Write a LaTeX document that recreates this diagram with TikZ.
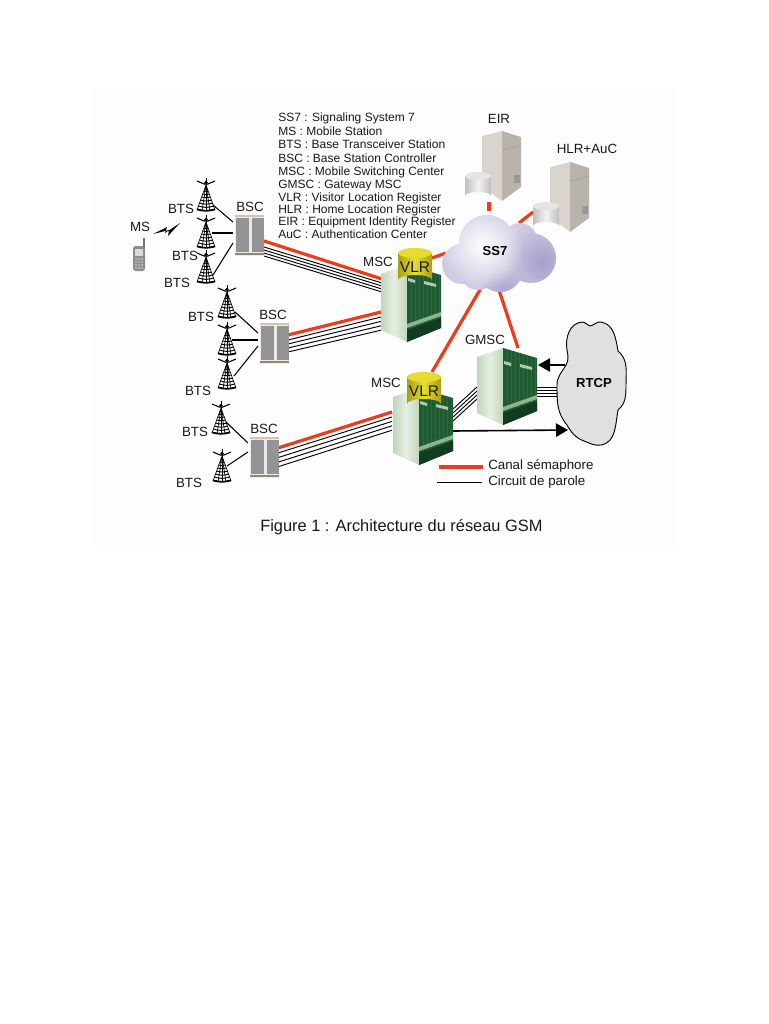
\documentclass[tikz,border=0pt]{standalone}
\usepackage{fontspec}
\setmainfont{Liberation Sans}
\usetikzlibrary{arrows.meta}
\usetikzlibrary{calc}
\usetikzlibrary{fadings}

\definecolor{sigred}{HTML}{F03A1A}
\definecolor{rackdark}{HTML}{1E5A32}
\definecolor{rackline}{HTML}{2C6A3E}
\definecolor{rackband}{HTML}{8DB58E}
\definecolor{rackfoot}{HTML}{123C22}
\definecolor{rackfaceA}{HTML}{BFD6BC}
\definecolor{rackfaceB}{HTML}{E6EFE2}
\definecolor{vlrA}{HTML}{A8A010}
\definecolor{vlrB}{HTML}{E6DC30}
\definecolor{srvA}{HTML}{DAD4CE}
\definecolor{srvB}{HTML}{B9B3AC}
\definecolor{cloudlav}{HTML}{A6A1CB}
\definecolor{paper}{HTML}{FDFDFD}

\tikzfading[name=softglow,inner color=transparent!0,outer color=transparent!100]

\newcommand{\bundle}[4]{% from, to, spacing at start, spacing at end
    \foreach \k in {0,1,2,3} {
        \draw[voice] ($(#1)+(0,\k*#3)$) -- ($(#2)+(0,\k*#4)$);
    }
}

\begin{document}
\begin{tikzpicture}[x=0.75pt,y=-0.75pt]
    \tikzset{>=stealth}
    \tikzset{
        signal/.style={draw=sigred,line width=2.4pt},
        voice/.style={draw=black,line width=0.7pt},
        radio/.style={draw=black,line width=0.8pt},
        trunk/.style={draw=black,line width=1.2pt,-{Triangle[length=9pt,width=10pt]}},
        lbl/.style={font=\fontsize{10}{12}\selectfont,inner sep=0pt,text=black!90},
        drumlbl/.style={lbl,font=\fontsize{11.6}{13}\selectfont},
        listline/.style={lbl,anchor=west,font=\fontsize{9}{10}\selectfont},
        bold/.style={font=\fontsize{9.8}{11}\selectfont\bfseries,inner sep=0pt},
        tower/.pic={
            \draw[line width=0.7pt] (0,0) -- (0,33);
            \draw[line width=0.8pt] (-9,3) -- (-2,6) -- (2,6) -- (9,3);
            \fill (0,4.5) circle (1.8);
            \draw[line width=0.5pt] (0,7) -- (-9,32) (0,7) -- (9,32) (0,7) -- (-4,33) (0,7) -- (4,33);
            \foreach \h in {10,13,...,31} {
                \pgfmathsetmacro{\w}{9*(\h-6)/26}
                \draw[line width=0.7pt] (-\w,\h) to[bend right=18] (\w,\h);
            }
            \draw[line width=1.2pt] (-9,31.5) to[bend right=15] (9,31.5);
        },
        bsc/.pic={
            \fill[black!8] (0,-1) rectangle (29,40);
            \fill[black!42] (1,2) rectangle (13.5,36);
            \fill[black!42] (16.5,2) rectangle (29,36);
            \fill[black!20!brown!40] (0,-1) rectangle (29,1);
            \fill[black!60!brown!60] (0,36.5) rectangle (29,39);
        },
        rack/.pic={
            \shade[left color=rackfaceA,right color=rackfaceA,middle color=rackfaceB] (-26,9) -- (0,0) -- (0,77) -- (-26,65) -- cycle;
            \fill[rackdark] (0,0) -- (34,10) -- (34,63) -- (0,77) -- cycle;
            \foreach \u in {4,8,...,32} {
                \draw[rackline,line width=0.4pt] (\u,{\u*10/34+1}) -- (\u,{77-\u*14/34});
            }
            \fill[rackfoot] (0,65) -- (34,53) -- (34,63) -- (0,77) -- cycle;
            \fill[rackband] (0,59) -- (34,47) -- (34,51) -- (0,63) -- cycle;
            \fill[rackband!70!white] (1,13) -- (8,15) -- (8,18) -- (1,16) -- cycle;
            \fill[rackband!70!white] (17,16) -- (29,19) -- (29,22) -- (17,19) -- cycle;
        },
        vlrdrum/.pic={
            \shade[left color=vlrA,right color=vlrA,middle color=vlrB] (-17,0) -- (-17,27) arc (180:360:17 and 5) -- (17,0) -- cycle;
            \fill[vlrB] (0,0) ellipse (17 and 5);
        },
        server/.pic={
            \fill[srvA] (-20,5) -- (0,0) -- (0,70) -- (-20,55) -- cycle;
            \fill[srvB] (0,0) -- (19,6) -- (19,56) -- (0,70) -- cycle;
            \draw[black!40,line width=0.3pt] (0,19) -- (19,14);
            \fill[black!40] (12,44) rectangle (18,52);
        },
        disk/.pic={
            \shade[left color=black!25,right color=black!25,middle color=black!5] (-13,0) -- (-13,20) arc (180:360:13 and 4) -- (13,0) -- cycle;
            \fill[black!10] (0,0) ellipse (13 and 4);
        }
    }

    \useasboundingbox (0,0) rectangle (768,1024);
    \fill[paper] (93,88) rectangle (676,546);

    % Places of the equipment
    \coordinate (bts1) at (206,178);
    \coordinate (bts2) at (206,215);
    \coordinate (bts3) at (206,250);
    \coordinate (bts4) at (227,285);
    \coordinate (bts5) at (227,322);
    \coordinate (bts6) at (227,356);
    \coordinate (bts7) at (221,401);
    \coordinate (bts8) at (222,449);
    \coordinate (bsc1) at (235,216);
    \coordinate (bsc2) at (260,324);
    \coordinate (bsc3) at (250,438);
    \coordinate (msc1) at (407,265);
    \coordinate (msc2) at (419,388);
    \coordinate (gmsc) at (503,348);

    % Radio links between BTS and BSC
    \coordinate (r1a) at (213,205);
    \coordinate (r1b) at (233,222);
    \coordinate (r2a) at (212,233);
    \coordinate (r2b) at (233,233);
    \coordinate (r3a) at (213,275);
    \coordinate (r3b) at (233,243);
    \coordinate (r4a) at (235,312);
    \coordinate (r4b) at (258,333);
    \coordinate (r5a) at (232,340);
    \coordinate (r5b) at (258,340);
    \coordinate (r6a) at (234,376);
    \coordinate (r6b) at (258,346);
    \coordinate (r7a) at (226,422);
    \coordinate (r7b) at (248,443);
    \coordinate (r8a) at (227,466);
    \coordinate (r8b) at (248,452);
    \foreach \n in {1,...,8} {
        \draw[radio] (r\n a) -- (r\n b);
    }

    % Signalling and voice between BSC and MSC
    \coordinate (s1a) at (264,241);
    \coordinate (s1b) at (382,279);
    \coordinate (v1a) at (264,247);
    \coordinate (v1b) at (382,283);
    \draw[signal] (s1a) -- (s1b);
    \bundle{v1a}{v1b}{3}{3}
    \coordinate (s2a) at (288,335);
    \coordinate (s2b) at (381,312);
    \coordinate (v2a) at (288,340);
    \coordinate (v2b) at (381,317);
    \draw[signal] (s2a) -- (s2b);
    \bundle{v2a}{v2b}{4}{4.4}
    \coordinate (s3a) at (278,448);
    \coordinate (s3b) at (392,412);
    \coordinate (v3a) at (278,453);
    \coordinate (v3b) at (392,417);
    \draw[signal] (s3a) -- (s3b);
    \bundle{v3a}{v3b}{4.6}{4.4}

    % Voice around the GMSC
    \coordinate (v4a) at (453,409);
    \coordinate (v4b) at (477,387);
    \bundle{v4a}{v4b}{4}{4}
    \coordinate (v5a) at (537,387);
    \coordinate (v5b) at (558,387);
    \bundle{v5a}{v5b}{3}{3}

    % Links of the SS7 cloud
    \coordinate (eirfoot) at (489,202);
    \coordinate (ss7n) at (489,211);
    \coordinate (hlrfoot) at (533,212);
    \coordinate (ss7ne) at (519,223);
    \coordinate (vlr1top) at (432,258);
    \coordinate (ss7w) at (446,253);
    \coordinate (ss7s) at (481,288);
    \coordinate (vlr2top) at (432,372);
    \coordinate (ss7se) at (498,287);
    \coordinate (gmsctop) at (518,348);
    \draw[signal] (eirfoot) -- (ss7n);
    \draw[signal] (hlrfoot) -- (ss7ne);
    \draw[signal] (vlr1top) -- (ss7w);
    \draw[signal] (ss7s) -- (vlr2top);
    \draw[signal] (ss7se) -- (gmsctop);

    % Draw the towers and the BSC
    \foreach \n in {1,...,8} {
        \pic at (bts\n) {tower};
    }
    \foreach \n in {1,2,3} {
        \pic at (bsc\n) {bsc};
    }

    % Draw the switches
    \pic at (msc1) {rack};
    \pic at (msc2) {rack};
    \pic at (gmsc) {rack};
    \pic at (415,253) {vlrdrum};
    \pic at (424,377) {vlrdrum};

    % EIR and HLR
    \pic at (502,131) {server};
    \pic at (478,176) {disk};
    \pic at (570,162) {server};
    \pic at (546,206) {disk};

    % The SS7 cloud
    \begin{scope}
        \clip (462,264) circle (20) (487,243) circle (28) (520,240) circle (17)
            (531,258) circle (25) (500,269) circle (23) (478,272) circle (18);
        \fill[cloudlav!55!white] (440,212) rectangle (560,295);
        \fill[cloudlav,path fading=softglow] (542,262) circle (40);
        \fill[cloudlav,path fading=softglow] (505,295) circle (28);
        \fill[white,path fading=softglow] (482,246) circle (42);
    \end{scope}

    % The RTCP cloud
    \draw[fill=black!12,line width=0.7pt]
        (567,350) to[out=100,in=185] (582,322) to[out=5,in=170] (590,326)
        to[out=10,in=170] (601,322) to[out=-10,in=100] (618,351)
        to[out=-40,in=90] (626,385) to[out=-90,in=40] (618,410)
        to[out=-100,in=10] (601,445) to[out=190,in=-20] (584,441)
        to[out=160,in=-60] (567,425) to[out=130,in=-90] (557,385)
        to[out=90,in=-120] (566,365) to[out=60,in=-80] cycle;

    % Arrows of the RTCP
    \coordinate (rtcpin) at (565,365);
    \coordinate (gmscin) at (538,365);
    \coordinate (mscout) at (453,431);
    \coordinate (rtcpout) at (568,430);
    \draw[trunk] (rtcpin) -- (gmscin);
    \draw[trunk] (mscout) -- (rtcpout);

    % Mobile station
    \fill[black!55] (143,238) rectangle (144.5,248);
    \fill[black!45,rounded corners=2pt] (133,246) rectangle (145,271);
    \fill[black!15] (135,249) rectangle (143,256);
    \foreach \u in {136,139,142} {
        \foreach \v in {259,262,265,268} {
            \fill[black!30] (\u-0.8,\v-0.8) rectangle (\u+0.8,\v+0.8);
        }
    }
    \fill (153,234) -- (167,227) -- (165,233) -- (180,223) -- (168,236) -- (169,230) -- cycle;

    % Labels of the equipment
    \node[lbl] (mslbl) at (140,227) {MS};
    \node[lbl] (btslbl1) at (181,209) {BTS};
    \node[lbl] (btslbl2) at (185,256) {BTS};
    \node[lbl] (btslbl3) at (177,283) {BTS};
    \node[lbl] (btslbl4) at (201,317) {BTS};
    \node[lbl] (btslbl5) at (198,391) {BTS};
    \node[lbl] (btslbl6) at (195,432) {BTS};
    \node[lbl] (btslbl7) at (189,483) {BTS};
    \node[lbl] (bsclbl1) at (250,207) {BSC};
    \node[lbl] (bsclbl2) at (273,315) {BSC};
    \node[lbl] (bsclbl3) at (264,429) {BSC};
    \node[lbl] (msclbl1) at (378,262) {MSC};
    \node[lbl] (msclbl2) at (386,383) {MSC};
    \node[lbl] (gmsclbl) at (485,340) {GMSC};
    \node[drumlbl] (vlrlbl1) at (415,267) {VLR};
    \node[drumlbl] (vlrlbl2) at (424,391) {VLR};
    \node[lbl] (eirlbl) at (499,119) {EIR};
    \node[lbl] (hlrlbl) at (587,149) {HLR+AuC};
    \node[bold] (ss7lbl) at (495,251) {SS7};
    \node[bold] (rtcplbl) at (594,383) {RTCP};

    % The list of acronyms
    \node[listline] (l1) at (278,118) {SS7 : Signaling System 7};
    \node[listline] (l2) at (278,131) {MS : Mobile Station};
    \node[listline] (l3) at (278,144) {BTS : Base Transceiver Station};
    \node[listline] (l4) at (278,158) {BSC : Base Station Controller};
    \node[listline] (l5) at (278,172) {MSC : Mobile Switching Center};
    \node[listline] (l6) at (278,186) {GMSC : Gateway MSC};
    \node[listline] (l7) at (278,198) {VLR : Visitor Location Register};
    \node[listline] (l8) at (278,210) {HLR : Home Location Register};
    \node[listline] (l9) at (278,222) {EIR : Equipment Identity Register};
    \node[listline] (l10) at (278,234) {AuC : Authentication Center};

    % Legend
    \coordinate (leg1a) at (439,467);
    \coordinate (leg1b) at (483,467);
    \coordinate (leg2a) at (437,482);
    \coordinate (leg2b) at (482,482);
    \draw[signal] (leg1a) -- (leg1b);
    \draw[voice] (leg2a) -- (leg2b);
    \node[listline,font=\fontsize{10}{12}\selectfont] (leg1) at (488,466) {Canal sémaphore};
    \node[listline,font=\fontsize{10}{12}\selectfont] (leg2) at (488,482) {Circuit de parole};

    \node[lbl,anchor=west,font=\fontsize{12.3}{14}\selectfont] (caption) at (260,527) {Figure 1 : Architecture du réseau GSM};
\end{tikzpicture}
\end{document}
